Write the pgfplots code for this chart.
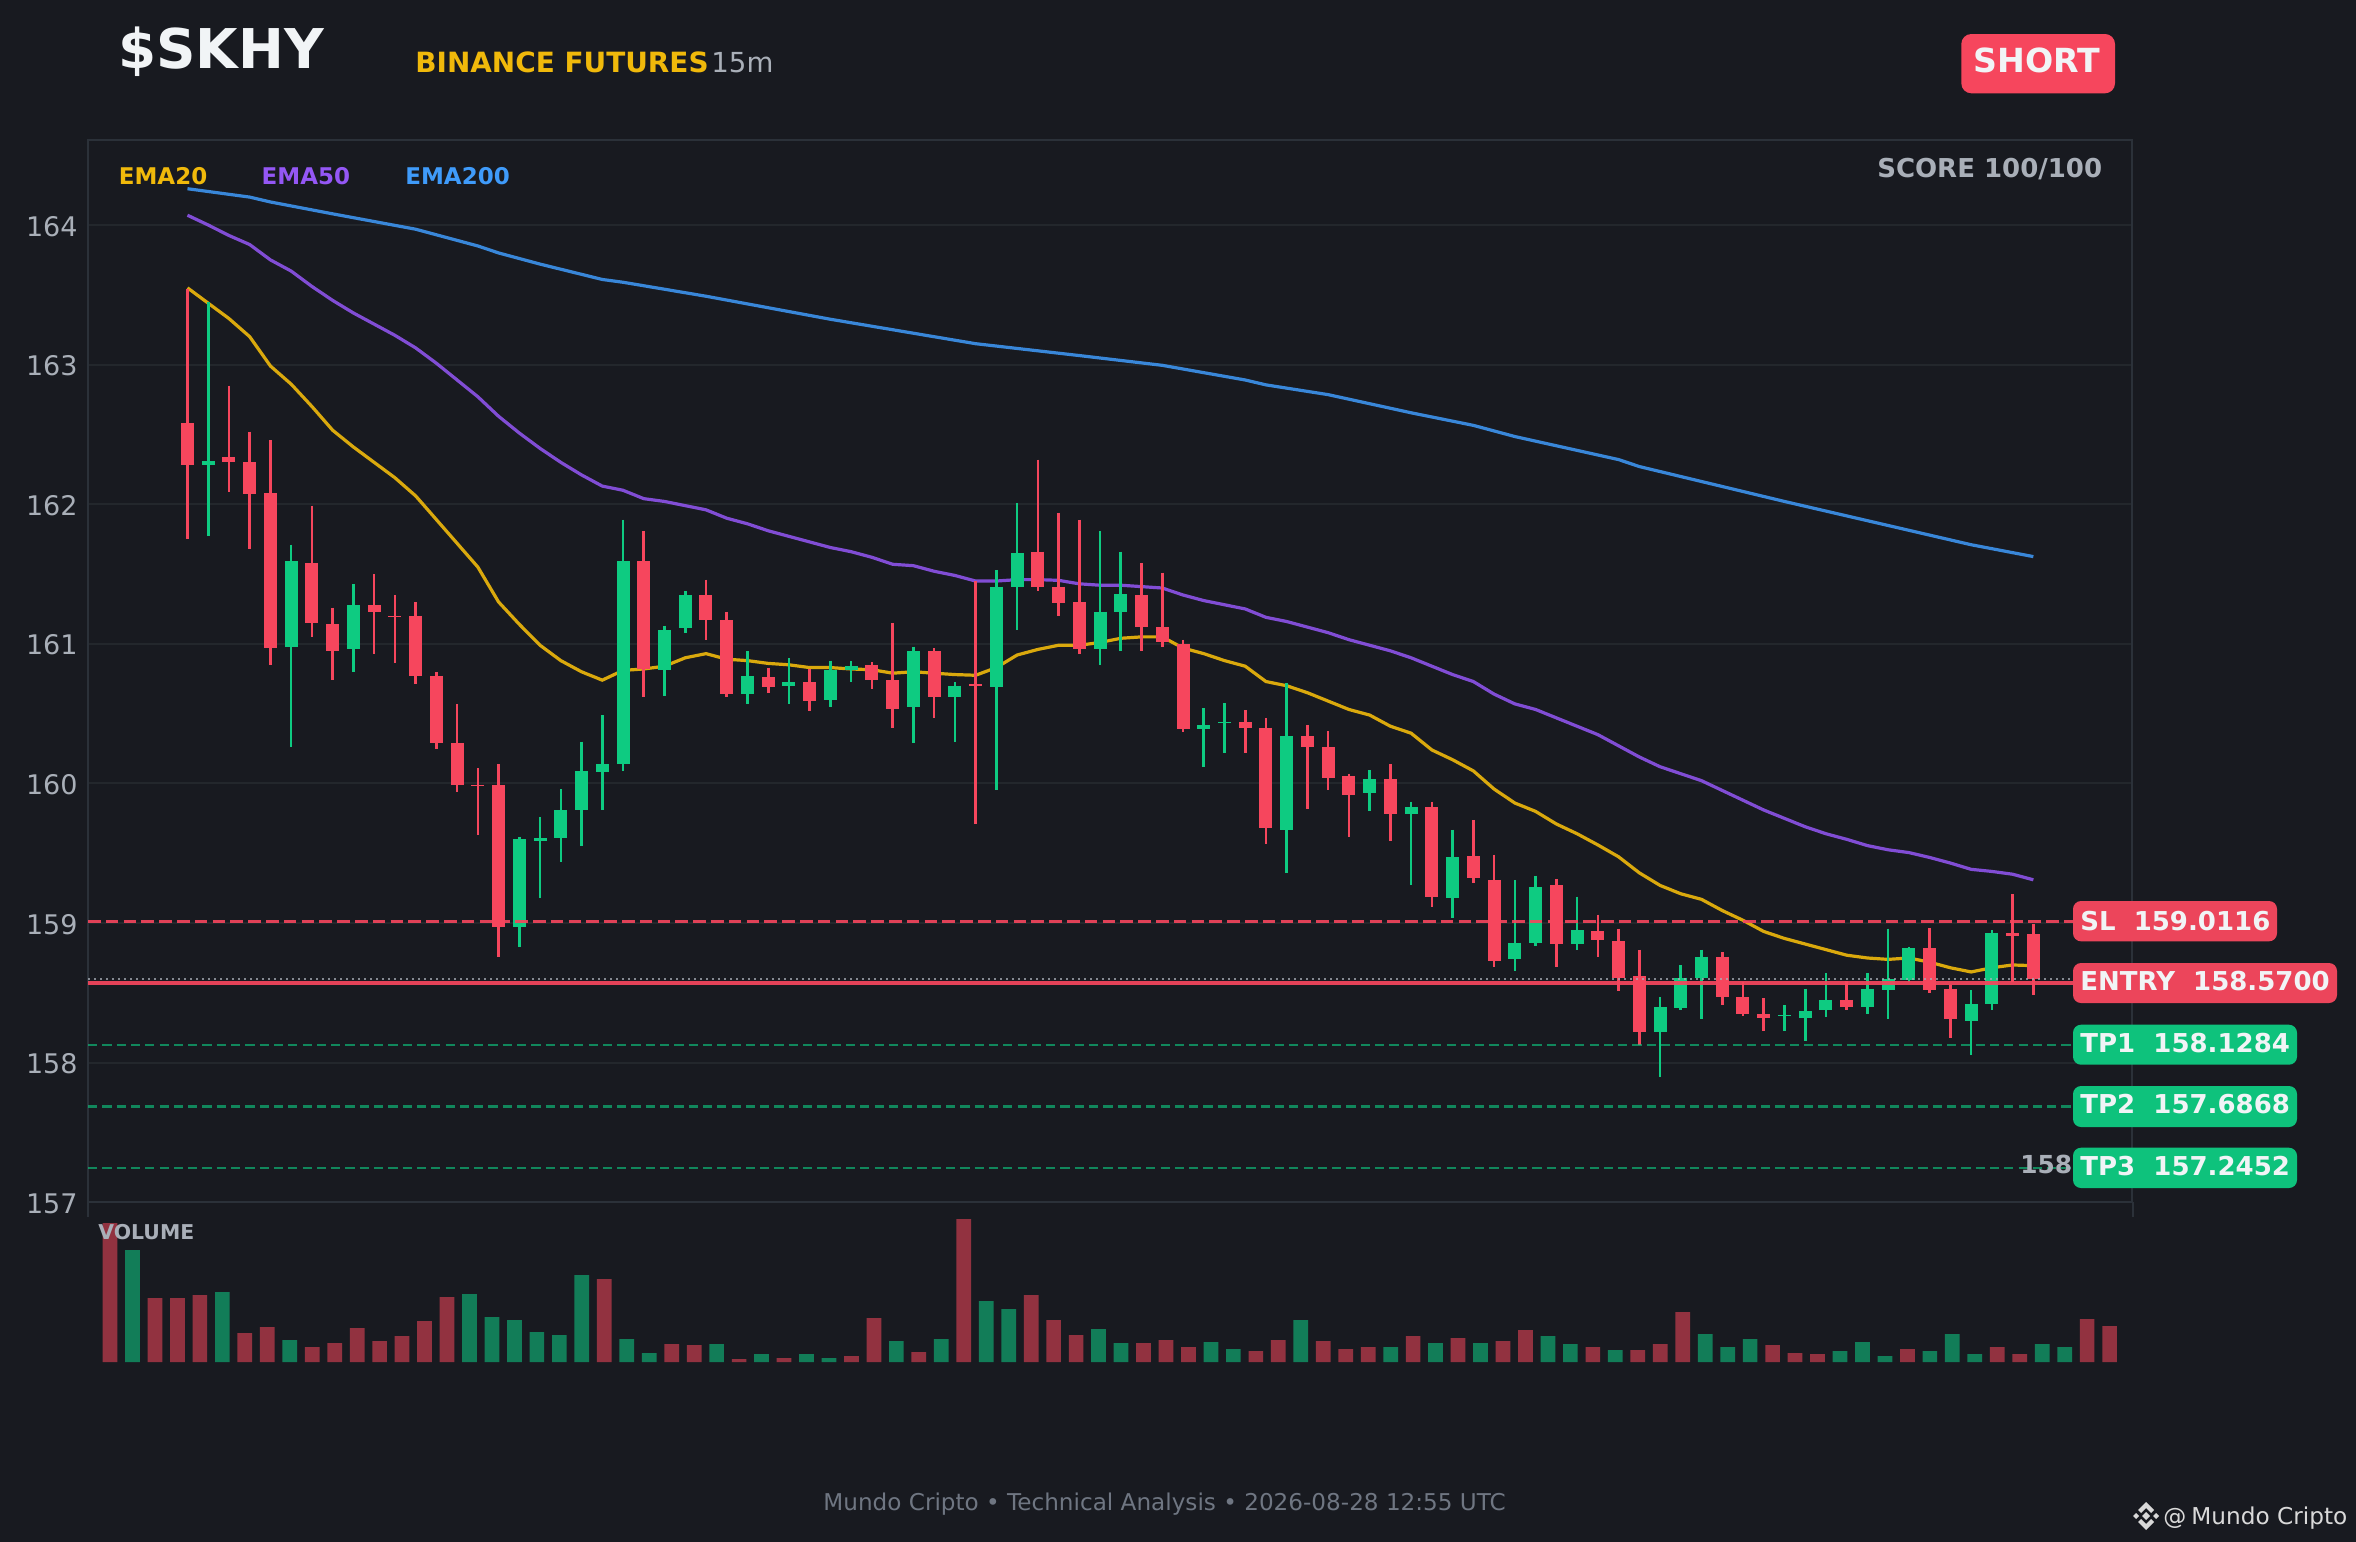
\documentclass[border=0pt]{standalone}
\usepackage{pgfplots}
\usepackage{pgfplotstable}
\usepackage{fontspec}
\setmainfont{DejaVu Sans}
\pgfplotsset{compat=1.18}
\definecolor{bg}{HTML}{181A20}
\definecolor{cr}{HTML}{F6465D}
\definecolor{cg}{HTML}{0ECB81}
\definecolor{vr}{HTML}{923240}
\definecolor{vg}{HTML}{127D58}
\definecolor{spine}{HTML}{2B3139}
\definecolor{gridc}{HTML}{23272C}
\definecolor{tickc}{HTML}{A9AFB8}
\definecolor{white2}{HTML}{F1F4F6}
\definecolor{e20}{HTML}{F0B90B}
\definecolor{e50}{HTML}{9457F5}
\definecolor{e200}{HTML}{3F9BFA}
\definecolor{badger}{HTML}{EC455B}
\definecolor{badgeg}{HTML}{0EC27C}
\newcommand{\fs}[1]{\fontsize{#1}{#1}\selectfont}

% x top bot high low
\pgfplotstableread{
x top bot high low
0 162.58 162.28 163.54 161.75
2 162.34 162.30 162.85 162.09
3 162.30 162.07 162.52 161.68
4 162.08 160.97 162.46 160.85
6 161.58 161.15 161.99 161.05
7 161.14 160.95 161.26 160.74
9 161.28 161.23 161.50 160.93
10 161.20 161.19 161.35 160.86
11 161.20 160.77 161.30 160.71
12 160.77 160.29 160.80 160.25
13 160.29 159.99 160.57 159.94
14 159.99 159.98 160.11 159.63
15 159.99 158.97 160.14 158.76
22 161.59 160.82 161.81 160.62
25 161.35 161.17 161.46 161.03
26 161.17 160.64 161.23 160.62
28 160.76 160.69 160.83 160.65
30 160.725 160.59 160.82 160.52
33 160.85 160.74 160.87 160.68
34 160.74 160.53 161.15 160.40
36 160.95 160.62 160.97 160.47
38 160.71 160.70 161.45 159.71
41 161.66 161.41 162.32 161.38
42 161.41 161.29 161.94 161.20
43 161.30 160.96 161.89 160.93
46 161.35 161.12 161.58 160.95
47 161.12 161.01 161.51 160.98
48 161.00 160.39 161.03 160.37
51 160.44 160.40 160.525 160.22
52 160.40 159.68 160.47 159.57
54 160.34 160.26 160.42 159.82
55 160.26 160.04 160.375 159.95
56 160.05 159.92 160.07 159.62
58 160.03 159.78 160.14 159.59
60 159.83 159.19 159.87 159.115
62 159.48 159.32 159.74 159.29
63 159.31 158.73 159.49 158.685
66 159.27 158.85 159.315 158.685
68 158.94 158.88 159.06 158.76
69 158.87 158.61 158.96 158.51
70 158.62 158.22 158.81 158.13
74 158.76 158.47 158.79 158.41
75 158.47 158.35 158.58 158.335
76 158.35 158.32 158.46 158.23
80 158.45 158.40 158.585 158.38
84 158.82 158.52 158.965 158.50
85 158.53 158.31 158.56 158.18
88 158.93 158.91 159.21 158.58
89 158.92 158.60 158.99 158.485
}\redc
\pgfplotstableread{
x top bot high low
1 162.31 162.28 163.45 161.77
5 161.59 160.98 161.71 160.26
8 161.28 160.96 161.43 160.80
16 159.60 158.97 159.62 158.83
17 159.61 159.59 159.76 159.18
18 159.81 159.61 159.96 159.44
19 160.09 159.81 160.30 159.55
20 160.14 160.08 160.49 159.81
21 161.59 160.14 161.89 160.09
23 161.10 160.81 161.13 160.63
24 161.35 161.11 161.38 161.08
27 160.77 160.64 160.95 160.57
29 160.725 160.70 160.90 160.57
31 160.81 160.60 160.88 160.55
32 160.84 160.81 160.875 160.73
35 160.95 160.55 160.98 160.29
37 160.70 160.62 160.725 160.30
39 161.41 160.69 161.53 159.95
40 161.65 161.41 162.01 161.10
44 161.23 160.96 161.81 160.85
45 161.355 161.23 161.66 160.95
49 160.42 160.39 160.54 160.12
50 160.44 160.435 160.575 160.22
53 160.34 159.67 160.72 159.36
57 160.03 159.93 160.095 159.80
59 159.83 159.78 159.87 159.27
61 159.47 159.18 159.67 159.04
64 158.86 158.74 159.31 158.66
65 159.26 158.86 159.34 158.835
67 158.95 158.85 159.19 158.81
71 158.40 158.22 158.47 157.90
72 158.61 158.39 158.70 158.38
73 158.76 158.61 158.81 158.31
77 158.34 158.335 158.41 158.23
78 158.37 158.32 158.53 158.155
79 158.45 158.38 158.64 158.33
81 158.53 158.40 158.64 158.35
82 158.60 158.52 158.96 158.31
83 158.82 158.59 158.83 158.58
86 158.42 158.30 158.52 158.055
87 158.93 158.42 158.95 158.38
}\greenc
\pgfplotstableread{
x e20 e50
0 163.55 164.07
1 163.44 164.00
2 163.33 163.925
3 163.20 163.86
4 162.99 163.75
5 162.86 163.67
6 162.70 163.56
7 162.53 163.46
8 162.41 163.37
9 162.30 163.29
10 162.19 163.21
11 162.06 163.12
12 161.89 163.01
13 161.72 162.89
14 161.55 162.77
15 161.30 162.63
16 161.14 162.51
17 160.99 162.40
18 160.88 162.30
19 160.80 162.21
20 160.74 162.13
21 160.81 162.10
22 160.82 162.04
23 160.84 162.02
24 160.90 161.99
25 160.93 161.96
26 160.89 161.90
27 160.88 161.86
28 160.86 161.81
29 160.85 161.77
30 160.83 161.73
31 160.83 161.69
32 160.82 161.66
33 160.815 161.62
34 160.79 161.57
35 160.80 161.56
36 160.79 161.52
37 160.78 161.49
38 160.775 161.45
39 160.83 161.45
40 160.92 161.46
41 160.96 161.46
42 160.99 161.455
43 160.99 161.43
44 161.01 161.42
45 161.04 161.42
46 161.05 161.41
47 161.05 161.40
48 160.97 161.35
49 160.93 161.31
50 160.88 161.28
51 160.84 161.25
52 160.73 161.19
53 160.70 161.16
54 160.65 161.12
55 160.59 161.08
56 160.53 161.03
57 160.49 160.99
58 160.41 160.95
59 160.36 160.90
60 160.24 160.84
61 160.17 160.78
62 160.09 160.73
63 159.96 160.64
64 159.86 160.57
65 159.80 160.53
66 159.71 160.47
67 159.64 160.41
68 159.56 160.35
69 159.475 160.27
70 159.36 160.19
71 159.27 160.12
72 159.21 160.07
73 159.17 160.02
74 159.09 159.95
75 159.02 159.88
76 158.94 159.81
77 158.89 159.75
78 158.85 159.69
79 158.81 159.64
80 158.77 159.60
81 158.75 159.555
82 158.74 159.525
83 158.75 159.505
84 158.72 159.47
85 158.68 159.43
86 158.65 159.385
87 158.68 159.37
88 158.70 159.35
89 158.695 159.31
}\emas
\pgfplotstableread{
x e200
0 164.26
3 164.20
4 164.165
7 164.08
11 163.97
12 163.93
14 163.85
15 163.80
17 163.72
20 163.61
21 163.59
25 163.49
31 163.325
34 163.25
38 163.15
43 163.065
47 162.995
51 162.89
52 162.855
55 162.785
59 162.655
62 162.565
64 162.485
69 162.32
70 162.27
77 162.02
86 161.71
89 161.625
}\emalong
\pgfplotstableread{
x v
0 417
2 192
3 192
4 201
6 87
7 105
9 45
10 57
11 102
12 63
13 78
14 123
15 195
22 249
25 54
26 51
28 9
30 12
33 18
34 132
36 30
38 429
41 201
42 126
43 81
46 57
47 66
48 45
51 33
52 66
54 63
55 39
56 45
58 78
60 72
62 63
63 96
66 45
68 36
69 54
70 150
74 51
75 27
76 24
80 39
84 45
85 24
88 129
89 108
}\vred
\pgfplotstableread{
x v
1 336
5 210
8 66
16 204
17 135
18 126
19 90
20 81
21 261
23 69
24 27
27 54
29 24
31 24
32 12
35 63
37 69
39 183
40 159
44 99
45 57
49 60
50 39
53 126
57 45
59 57
61 57
64 78
65 54
67 36
71 84
72 45
73 69
77 33
78 60
79 18
81 33
82 84
83 24
86 54
87 45
}\vgreen

\begin{document}
\begin{tikzpicture}
\begin{scope}[x=0.5pt,y=-0.5pt]
\useasboundingbox (0,0) rectangle (2356,1542);
\fill[bg] (0,0) rectangle (2356,1542);
\end{scope}

% volume panel
\begin{axis}[
  at={(44pt,-681pt)}, anchor=south west,
  scale only axis, width=1022.25pt, height=76pt,
  xmin=-0.98, xmax=90.02, ymin=0, ymax=456,
  axis lines=none, clip=false,
  ticks=none,
]
\addplot[ybar, bar width=7.35pt, bar shift=0pt, fill=vr, draw=none] table[x=x,y=v] \vred;
\addplot[ybar, bar width=7.35pt, bar shift=0pt, fill=vg, draw=none] table[x=x,y=v] \vgreen;
\end{axis}

% price panel
\begin{axis}[
  at={(44pt,-601.15pt)}, anchor=south west,
  scale only axis, width=1022.25pt, height=531.15pt,
  xmin=-4.797, xmax=93.78, ymin=157, ymax=164.609,
  axis line style={spine, line width=1pt},
  xtick=\empty,
  ytick={157,158,159,160,161,162,163,164},
  ymajorgrids, grid style={gridc, line width=1pt},
  ytick style={draw=none}, major tick length=0pt,
  /pgf/number format/assume math mode=true,
  yticklabel style={font=\fs{13.5}, text=tickc, inner sep=0pt, anchor=east, xshift=-5pt, yshift=-0.6pt},
]
\addplot[e200, opacity=0.85, line width=1.6pt] table[x=x,y=e200] \emalong;
\addplot[e50, opacity=0.85, line width=1.6pt] table[x=x,y=e50] \emas;
\addplot[e20, opacity=0.9, line width=1.6pt] table[x=x,y=e20] \emas;

% wicks
\addplot[draw=none, mark=none, forget plot, error bars/.cd, y dir=minus, y explicit, error mark=none,
  error bar style={draw=cr, solid, line width=1.3pt}] table[x=x,y=high,y error minus expr=\thisrow{high}-\thisrow{low}] \redc;
\addplot[draw=none, mark=none, forget plot, error bars/.cd, y dir=minus, y explicit, error mark=none,
  error bar style={draw=cg, solid, line width=1.3pt}] table[x=x,y=high,y error minus expr=\thisrow{high}-\thisrow{low}] \greenc;
% bodies
\addplot[draw=none, mark=none, forget plot, error bars/.cd, y dir=minus, y explicit, error mark=none,
  error bar style={draw=cr, solid, line width=6.5pt}] table[x=x,y=top,y error minus expr=\thisrow{top}-\thisrow{bot}] \redc;
\addplot[draw=none, mark=none, forget plot, error bars/.cd, y dir=minus, y explicit, error mark=none,
  error bar style={draw=cg, solid, line width=6.5pt}] table[x=x,y=top,y error minus expr=\thisrow{top}-\thisrow{bot}] \greenc;

% levels
\addplot[cr, opacity=0.9, line width=1.3pt, dash pattern=on 6.25pt off 2.65pt] coordinates {(-4.797,159.0116) (93.78,159.0116)};
\addplot[tickc, opacity=0.75, line width=0.9pt, dash pattern=on 1pt off 2pt] coordinates {(-4.797,158.60) (93.78,158.60)};
\addplot[cr, opacity=0.92, line width=2.1pt] coordinates {(-4.797,158.57) (93.78,158.57)};
\addplot[cg, opacity=0.62, line width=1.2pt, dash pattern=on 4.6pt off 2.55pt] coordinates {(-4.797,158.1284) (93.78,158.1284)};
\addplot[cg, opacity=0.62, line width=1.2pt, dash pattern=on 4.6pt off 2.55pt] coordinates {(-4.797,157.6868) (93.78,157.6868)};
\addplot[cg, opacity=0.62, line width=1.2pt, dash pattern=on 4.6pt off 2.55pt] coordinates {(-4.797,157.2452) (93.78,157.2452)};
\end{axis}

\begin{scope}[x=0.5pt,y=-0.5pt]
% axis tick stubs under the frame
\draw[spine, line width=1pt] (88,1202) -- (88,1217);
\draw[spine, line width=1pt] (2132.5,1202) -- (2132.5,1217);
% header
\node[anchor=base west, inner sep=0pt, text=white2, font=\fs{27.4}\bfseries] at (118,68.3) {\$SKHY};
\node[anchor=base west, inner sep=0pt, text=e20, font=\fs{13.95}\bfseries] at (415,72) {BINANCE FUTURES};
\node[anchor=base west, inner sep=0pt, text=tickc, font=\fs{13.8}] at (711,72) {15m};
\fill[cr, rounded corners=5pt] (1961.3,34) rectangle (2115,93.3);
\node[anchor=base west, inner sep=0pt, text=white2, font=\fs{16.6}\bfseries] at (1973.5,72.7) {SHORT};
% inner labels
\node[anchor=base west, inner sep=0pt, text=e20, font=\fs{11.5}\bfseries] at (118.5,184) {EMA20};
\node[anchor=base west, inner sep=0pt, text=e50, font=\fs{11.5}\bfseries] at (261.3,184) {EMA50};
\node[anchor=base west, inner sep=0pt, text=e200, font=\fs{11.5}\bfseries] at (405,184) {EMA200};
\node[anchor=base east, inner sep=0pt, text=tickc, font=\fs{13}\bfseries] at (2102.5,177) {SCORE 100/100};
\node[anchor=base west, inner sep=0pt, text=tickc, font=\fs{10.2}\bfseries] at (98,1239) {VOLUME};
% stray tick label under TP3
\node[anchor=base west, inner sep=0pt, text=tickc, font=\fs{12.4}\bfseries] at (2020,1173) {158};
% level badges
\fill[badger, rounded corners=4pt] (2073,901) rectangle (2277,941.3);
\fill[badger, rounded corners=4pt] (2073,963) rectangle (2337,1003);
\fill[badgeg, rounded corners=4pt] (2073,1024.7) rectangle (2297,1064.7);
\fill[badgeg, rounded corners=4pt] (2073,1086) rectangle (2297,1127);
\fill[badgeg, rounded corners=4pt] (2073,1147.7) rectangle (2297,1188);
\node[anchor=base west, inner sep=0pt, text=white2, font=\fs{13}\bfseries] at (2080,930) {SL\ \ 159.0116};
\node[anchor=base west, inner sep=0pt, text=white2, font=\fs{13}\bfseries] at (2080,990.5) {ENTRY\ \ 158.5700};
\node[anchor=base west, inner sep=0pt, text=white2, font=\fs{13}\bfseries] at (2080,1052) {TP1\ \ 158.1284};
\node[anchor=base west, inner sep=0pt, text=white2, font=\fs{13}\bfseries] at (2080,1113.5) {TP2\ \ 157.6868};
\node[anchor=base west, inner sep=0pt, text=white2, font=\fs{13}\bfseries] at (2080,1175.5) {TP3\ \ 157.2452};
% footer
\node[anchor=base, inner sep=0pt, text={rgb,255:red,111;green,118;blue,130}, font=\fs{11.56}] at (1164.6,1510) {Mundo Cripto • Technical Analysis • 2026-08-28 12:55 UTC};
% logo and handle
\begin{scope}[shift={(2146,1516)}]
\fill[white!85!black] (0,-14) -- (8,-6) -- (5,-3) -- (0,-8) -- (-5,-3) -- (-8,-6) -- cycle;
\fill[white!85!black] (0,14) -- (8,6) -- (5,3) -- (0,8) -- (-5,3) -- (-8,6) -- cycle;
\fill[white!85!black] (-13,0) -- (-10,-3) -- (-7,0) -- (-10,3) -- cycle;
\fill[white!85!black] (13,0) -- (10,-3) -- (7,0) -- (10,3) -- cycle;
\fill[white!85!black] (-4,0) -- (0,-4) -- (4,0) -- (0,4) -- cycle;
\end{scope}
\node[anchor=base west, inner sep=0pt, text=white!85!black, font=\fs{11.5}] at (2163,1524) {@};
\node[anchor=base west, inner sep=0pt, text=white!85!black, font=\fs{11.6}] at (2191,1524) {Mundo Cripto};
\end{scope}
\end{tikzpicture}
\end{document}
